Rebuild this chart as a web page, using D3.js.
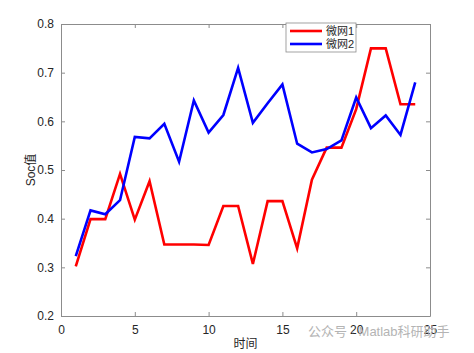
<!DOCTYPE html>
<html>
<head>
<meta charset="utf-8">
<script src="https://cdn.jsdelivr.net/npm/d3@7"></script>
<style>
  body { margin: 0; background: #fff; }
  text { font-family: Arial, "Liberation Sans", "Noto Sans CJK SC", sans-serif; }
</style>
</head>
<body>
<div id="chart"></div>
<script>
// time steps
const times = d3.range(1, 25);
// series values
const grid1 = [0.302, 0.399, 0.399, 0.492, 0.398, 0.477, 0.347, 0.347, 0.347, 0.346,
  0.426, 0.426, 0.307, 0.436, 0.436, 0.339, 0.480, 0.546, 0.546, 0.625,
  0.750, 0.750, 0.635, 0.635];
const grid2 = [0.323, 0.417, 0.409, 0.438, 0.568, 0.565, 0.595, 0.517, 0.643, 0.577,
  0.613, 0.710, 0.597, 0.637, 0.676, 0.554, 0.536, 0.543, 0.561, 0.649,
  0.586, 0.612, 0.572, 0.680];
const seriesNames = ['微网1', '微网2'];
const xTicks = [0, 5, 10, 15, 20, 25];
const yTicks = [0.2, 0.3, 0.4, 0.5, 0.6, 0.7, 0.8];

const figure_width = 474, figure_height = 353;
const plot_margin = { top: 24, right: 44, bottom: 37, left: 61 },
    plot_width = figure_width - plot_margin.left - plot_margin.right,
    plot_height = figure_height - plot_margin.top - plot_margin.bottom;

const svg = d3.select('div#chart')
  .append('svg')
    .attr('width', figure_width)
    .attr('height', figure_height);

const g = svg.append('g')
    .attr('transform', 'translate(' + plot_margin.left + ',' + plot_margin.top + ')');

const x = d3.scaleLinear().domain([0, 25]).range([0, plot_width]);
const y = d3.scaleLinear().domain([0.2, 0.8]).range([plot_height, 0]);

const axisColor = '#8c8c8c';
const labelColor = '#262626';

// bottom axis, ticks inside
const xAxis = g.append('g')
    .attr('transform', 'translate(0,' + plot_height + ')')
    .call(d3.axisBottom(x).tickValues(xTicks).tickSizeInner(-4).tickSizeOuter(0).tickPadding(9));
// top axis mirror
const xTop = g.append('g')
    .call(d3.axisTop(x).tickValues(xTicks).tickSizeInner(-4).tickSizeOuter(0).tickFormat(''));
// left axis
const yAxis = g.append('g')
    .call(d3.axisLeft(y).tickValues(yTicks).tickSizeInner(-4).tickSizeOuter(0).tickPadding(7)
      .tickFormat(d3.format('.1f')));
// right mirror
const yRight = g.append('g')
    .attr('transform', 'translate(' + plot_width + ',0)')
    .call(d3.axisRight(y).tickValues(yTicks).tickSizeInner(-4).tickSizeOuter(0).tickFormat(''));

[xAxis, xTop, yAxis, yRight].forEach(function(a) {
  a.select('.domain').attr('stroke', axisColor);
  a.selectAll('.tick line').attr('stroke', axisColor);
  a.selectAll('.tick text').attr('fill', labelColor).style('font-size', '12px');
});

// lines
const line = d3.line()
  .x(function(d, i) { return x(times[i]); })
  .y(function(d) { return y(d); });

const colors = ['#ff0000', '#0000ff'];
[grid1, grid2].forEach(function(s, k) {
  g.append('path')
    .datum(s)
    .attr('fill', 'none')
    .attr('stroke', colors[k])
    .attr('stroke-width', 2.6)
    .attr('stroke-linejoin', 'miter')
    .attr('d', line);
});

// legend
const lg = svg.append('g').attr('transform', 'translate(286,23)');
lg.append('rect')
  .attr('width', 70).attr('height', 29)
  .attr('fill', '#fff').attr('stroke', '#8c8c8c').attr('stroke-width', 0.8);
seriesNames.forEach(function(n, k) {
  const yy = 8 + k * 13;
  lg.append('line')
    .attr('x1', 4).attr('x2', 36).attr('y1', yy).attr('y2', yy)
    .attr('stroke', colors[k]).attr('stroke-width', 2.6);
  lg.append('text')
    .attr('x', 40).attr('y', yy + 4)
    .attr('fill', labelColor)
    .style('font-size', '11px')
    .text(n);
});

// axis titles
svg.append('text')
  .attr('x', plot_margin.left + plot_width / 2)
  .attr('y', 348)
  .attr('text-anchor', 'middle')
  .attr('fill', labelColor)
  .style('font-size', '12px')
  .text('时间');

svg.append('text')
  .attr('transform', 'translate(35,' + (plot_margin.top + plot_height / 2) + ') rotate(-90)')
  .attr('text-anchor', 'middle')
  .attr('fill', labelColor)
  .style('font-size', '12px')
  .text('Soc值');

// watermark
svg.append('text')
  .attr('x', 308).attr('y', 336)
  .attr('fill', '#b4b4b4')
  .style('font-size', '13px')
  .text('公众号 · Matlab科研助手');
</script>
</body>
</html>
